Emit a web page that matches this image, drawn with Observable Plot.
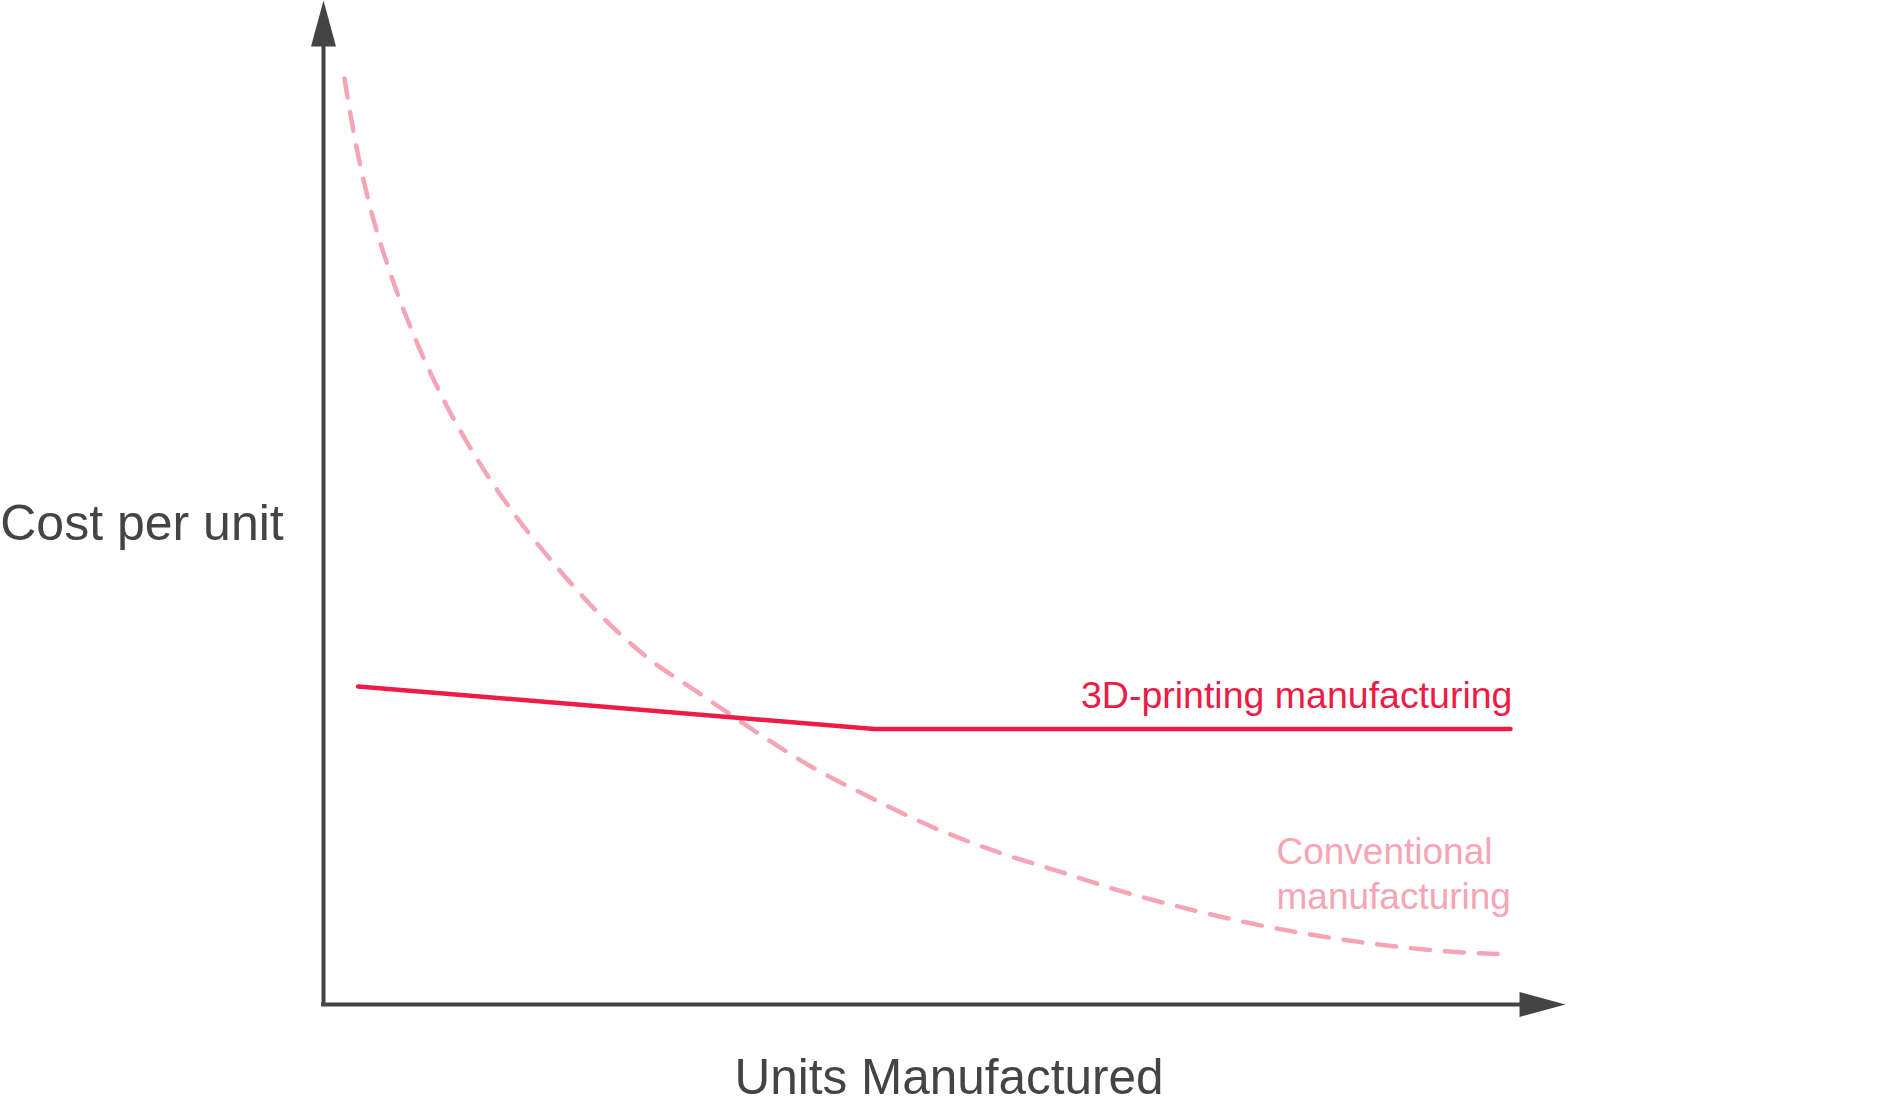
<!DOCTYPE html>
<html>
<head>
<meta charset="utf-8">
<script src="https://cdn.jsdelivr.net/npm/d3@7"></script>
<script src="https://cdn.jsdelivr.net/npm/@observablehq/plot@0.6"></script>
<style>
  html, body { margin: 0; padding: 0; background: #ffffff; }
  #chart { width: 1885px; height: 1111px; }
</style>
</head>
<body>
<div id="chart"></div>
<script>
// ---- data (arbitrary units: x = units manufactured, y = cost per unit) ----
const conventionalX = [1.69, 2.63, 3.84, 5.39, 7.35, 9.64, 12.32, 15.27, 18.68, 22.25, 26.17, 30.27, 34.67, 39.25, 43.99, 48.74, 54.32, 59.41, 64.49, 69.57, 74.83, 79.47, 84.94, 90.34, 95.57];
const conventionalY = [92.23, 85.56, 79.03, 72.81, 66.43, 60.30, 54.42, 49.00, 43.73, 38.84, 34.46, 30.98, 27.29, 23.71, 20.65, 17.83, 15.17, 13.18, 11.19, 9.53, 8.04, 6.97, 5.98, 5.31, 4.98];
const printingX = [2.79, 44.36, 95.57];
const printingY = [31.67, 27.44, 27.44];
const xLabel = "Units Manufactured";
const yLabel = "Cost per unit";
const printingLabel = "3D-printing manufacturing";
const conventionalLabel = "Conventional\nmanufacturing";

const conventional = conventionalX.map((x, i) => ({x, y: conventionalY[i]}));
const printing = printingX.map((x, i) => ({x, y: printingY[i]}));

const AXIS = "#444444";
const RED = "#ee1b47";
const PINK = "#f6a5b5";
const FONT = "'Liberation Sans', Arial, Helvetica, sans-serif";

// filled arrowhead: tip at the anchor point, pointing up (rotated for x)
const arrowHead = {
  draw(context) {
    context.moveTo(0, 0);
    context.lineTo(12.5, 46);
    context.lineTo(-12.5, 46);
    context.closePath();
  }
};

const chart = Plot.plot({
  width: 1885,
  height: 1111,
  marginLeft: 323,
  marginRight: 320,
  marginTop: 0,
  marginBottom: 107,
  x: {domain: [0, 100], axis: null},
  y: {domain: [0, 100], axis: null},
  style: {background: "#ffffff", fontFamily: FONT},
  marks: [
    // axes
    Plot.ruleX([0], {stroke: AXIS, strokeWidth: 4, insetTop: 44, insetBottom: -2}),
    Plot.ruleY([0], {stroke: AXIS, strokeWidth: 4, insetRight: 44, insetLeft: -2}),
    Plot.dot([{x: 0, y: 100}], {x: "x", y: "y", symbol: arrowHead, fill: AXIS, stroke: null}),
    Plot.dot([{x: 100, y: 0}], {x: "x", y: "y", symbol: arrowHead, rotate: 90, fill: AXIS, stroke: null}),
    // series
    Plot.line(conventional, {x: "x", y: "y", stroke: PINK, strokeWidth: 4.5, strokeDasharray: "19,15", strokeLinecap: "round", curve: "monotone-x"}),
    Plot.line(printing, {x: "x", y: "y", stroke: RED, strokeWidth: 4.5, strokeLinecap: "round", strokeLinejoin: "round"}),
    // series labels
    Plot.text(printing.slice(-1), {x: "x", y: "y", text: () => printingLabel, textAnchor: "end", lineAnchor: "bottom", dy: -21, dx: 2, fill: RED, fontSize: 37.5, fontFamily: FONT}),
    Plot.text(conventional.slice(-1), {x: "x", y: "y", text: () => conventionalLabel, textAnchor: "start", lineAnchor: "bottom", lineHeight: 1.19, dx: -234, dy: -46, fill: PINK, fontSize: 37, fontFamily: FONT}),
    // axis titles
    Plot.text([yLabel], {frameAnchor: "left", text: d => d, textAnchor: "middle", lineAnchor: "bottom", dx: -181.5, dy: 37, fill: AXIS, fontSize: 50, fontFamily: FONT}),
    Plot.text([xLabel], {frameAnchor: "bottom", text: d => d, textAnchor: "middle", lineAnchor: "bottom", dx: 4.5, dy: 89, fill: AXIS, fontSize: 49.5, fontFamily: FONT})
  ]
});
document.getElementById("chart").appendChild(chart);
</script>
</body>
</html>
